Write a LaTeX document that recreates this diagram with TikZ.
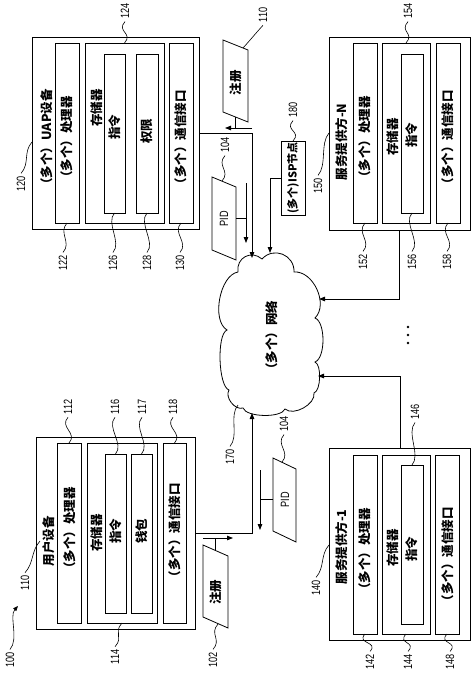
\documentclass[tikz,border=0pt]{standalone}
\usepackage{fontspec}
\setmainfont{Liberation Sans}
\newfontfamily\cjkf{Noto Sans CJK SC}
\newfontfamily\numf[FakeStretch=0.76]{Liberation Sans}
\usetikzlibrary{arrows.meta}
\newcommand\mybox[5]{\node[bx, minimum width={(#4-#2)*1pt}, minimum height={(#5-#3)*1pt}] (#1) at ({(#2+#4)/2},{(#3+#5)/2}) {};}
\begin{document}
\begin{tikzpicture}[x=1pt,y=-1pt,
  bx/.style={draw, line width=0.8pt, rectangle, inner sep=0pt, outer sep=0pt},
  ct/.style={rotate=90, inner sep=0pt, font=\cjkf\bfseries\fontsize{12.5}{13}\selectfont},
  cts/.style={rotate=90, inner sep=0pt, font=\cjkf\bfseries\fontsize{11}{13}\selectfont},
  num/.style={rotate=90, inner sep=0pt, outer sep=3pt, font=\numf\fontsize{12}{13}\selectfont},
  ln/.style={line width=0.8pt},
  arr/.style={ln, -{Triangle[length=6pt,width=4.5pt]}},
  sqd/.style={line width=0.6pt, to path={.. controls +(-9,10) and +(9,-10) .. (\tikztotarget)}},
  squ/.style={line width=0.6pt, to path={.. controls +(9,-10) and +(-9,10) .. (\tikztotarget)}},
]
\useasboundingbox (0,0) rectangle (474,677);

% ---------- UAP device 120 ----------
\mybox{uap}{32}{37}{199}{229}
\mybox{uapproc}{55}{43}{79}{223}
\mybox{uapmem}{85}{43}{164}{223}
\mybox{uapins}{104}{54}{125}{213}
\mybox{uapperm}{136}{54}{158}{213}
\mybox{uapcom}{169}{43}{193}{223}
\node[ct] (t120) at (47,140) {（多个）UAP设备};
\node[ct] (t122) at (67,140) {（多个）处理器};
\node[ct] (t124) at (97,108) {存储器};
\node[ct] (t126) at (115,127) {指令};
\node[ct] (t128) at (147,131) {权限};
\node[ct] (t130) at (181,140) {（多个）通信接口};

% ---------- Service provider N 150 ----------
\mybox{spn}{329}{37}{470}{230}
\mybox{spnproc}{353}{43}{377}{223}
\mybox{spnmem}{382}{43}{430}{223}
\mybox{spnins}{401}{54}{423}{213}
\mybox{spncom}{436}{43}{460}{223}
\node[ct] (t150) at (342,142) {服务提供方-N};
\node[ct] (t152) at (365,140) {（多个）处理器};
\node[ct] (t154) at (393,137) {存储器};
\node[ct] (t156) at (412,135) {指令};
\node[ct] (t158) at (448,140) {（多个）通信接口};

% ---------- User device 110 ----------
\mybox{ud}{36}{437}{195}{629}
\mybox{udproc}{57}{443}{81}{623}
\mybox{udmem}{87}{443}{157}{623}
\mybox{udins}{105}{454}{126}{613}
\mybox{udwal}{131}{454}{152}{613}
\mybox{udcom}{163}{443}{186}{623}
\node[ct] (t110) at (49,541) {用户设备};
\node[ct] (t112) at (70,531) {（多个）处理器};
\node[ct] (t114) at (97,533) {存储器};
\node[ct] (t116) at (116,531) {指令};
\node[ct] (t117) at (142,531) {钱包};
\node[ct] (t118) at (175,533) {（多个）通信接口};

% ---------- Service provider 1 140 ----------
\mybox{spa}{329}{448}{470}{640}
\mybox{spaproc}{353}{455}{377}{634}
\mybox{spamem}{382}{455}{430}{634}
\mybox{spains}{401}{465}{423}{624}
\mybox{spacom}{435}{455}{459}{634}
\node[ct] (t140) at (342,547) {服务提供方-1};
\node[ct] (t142) at (365,552) {（多个）处理器};
\node[ct] (t144) at (393,548) {存储器};
\node[ct] (t146) at (412,549) {指令};
\node[ct] (t148) at (448,557) {（多个）通信接口};

% ---------- ISP node 180 ----------
\mybox{isp}{281}{141}{305}{215}
\node[cts] (t180) at (293,178) {(多个)ISP节点};

% ---------- Network cloud ----------
\draw[ln] (238,272) to[bend left=70, looseness=1.34] (262,259)
  to[bend left=70, looseness=1.28] (294,272)
  to[bend left=70, looseness=0.98] (315,318)
  to[bend left=70, looseness=0.66] (315,362)
  to[bend left=70, looseness=0.6] (314,393)
  to[bend left=70, looseness=0.88] (285,409)
  to[bend left=70, looseness=0.6] (243,408)
  to[bend left=70, looseness=0.95] (229,390)
  to[bend left=70, looseness=0.48] (227,330)
  to[bend left=70, looseness=0.8] (238,272);
\node[ct] (net) at (272,338) {（多个）网络};

% ---------- connectors to network ----------
\coordinate (uapo) at (199,133);
\coordinate (nt1) at (252,258);
\draw[arr] (uapo) -| (nt1);
\coordinate (nt2) at (270,253);
\draw[arr] (isp.west) -| (nt2);
\coordinate (spno) at (399,230);
\coordinate (nr1) at (319,299);
\draw[arr] (spno) |- (nr1);
\coordinate (spao) at (400,448);
\coordinate (nr2) at (318,376);
\draw[arr] (spao) |- (nr2);
\coordinate (udo) at (195,533);
\coordinate (nb) at (252,413);
\draw[arr] (udo) -| (nb);

% ---------- top registration 110 ----------
\draw[ln] (223,40) -- (248,50) -- (248,122) -- (223,112) -- cycle;
\node[ct] (reg1) at (236,83) {注册};
\coordinate (r1a) at (252,128);
\coordinate (r1b) at (225,128);
\draw[arr] (r1a) -- (r1b);
\coordinate (r1s) at (235,117);
\draw[ln] (r1s) -- (r1s |- r1a);

% ---------- top PID 104 ----------
\draw[ln] (212,177) -- (236,187) -- (236,260) -- (212,250) -- cycle;
\node[num, font=\numf\fontsize{12}{13}\selectfont] (pid1) at (224,219) {PID};
\coordinate (p1a) at (246,183);
\coordinate (p1b) at (246,243);
\draw[arr] (p1a) -- (p1b);
\coordinate (p1s) at (236,218);
\draw[ln] (p1s) -- (p1s -| p1a);

% ---------- bottom registration 102 ----------
\draw[ln] (203,545) -- (228,556) -- (228,628) -- (203,617) -- cycle;
\node[ct] (reg2) at (216,592) {注册};
\coordinate (r2a) at (203,538);
\coordinate (r2b) at (233,538);
\draw[arr] (r2a) -- (r2b);
\coordinate (r2s) at (215,550);
\draw[ln] (r2s) -- (r2s |- r2a);

% ---------- bottom PID 104 ----------
\draw[ln] (273,458) -- (296,469) -- (296,542) -- (273,531) -- cycle;
\node[num, font=\numf\fontsize{12}{13}\selectfont] (pid2) at (285,500) {PID};
\coordinate (p2a) at (260,470);
\coordinate (p2b) at (260,530);
\draw[arr] (p2a) -- (p2b);
\coordinate (p2s) at (273,499);
\draw[ln] (p2s) -- (p2s -| p2a);

% ---------- dots ----------
\foreach \yy in {327,335,343} \fill (408,\yy) circle[radius=1.3];

% ---------- reference numerals ----------
\node[num] (l124) at (125,11) {124};
\draw[squ] (uapmem.north) to (l124.west);
\node[num] (l154) at (408,11) {154};
\draw[squ] (spnmem.north) to (l154.west);
\node[num] (l110t) at (263,15) {110};
\coordinate (r1t) at (243,48);
\draw[squ] (r1t) to (l110t.west);
\node[num] (l180) at (293,110) {180};
\draw[squ] (isp.north) to (l180.west);
\node[num] (l104t) at (225,145) {104};
\coordinate (p1t) at (222,181);
\draw[squ] (p1t) to (l104t.west);

\node[num] (l122) at (63,263) {122};
\draw[sqd] (uapproc.south) to (l122.east);
\node[num] (l126) at (113,263) {126};
\draw[sqd] (uapins.south) to (l126.east);
\node[num] (l128) at (147,263) {128};
\draw[sqd] (uapperm.south) to (l128.east);
\node[num] (l130) at (180,263) {130};
\draw[sqd] (uapcom.south) to (l130.east);
\node[num] (l152) at (363,262) {152};
\draw[sqd] (spnproc.south) to (l152.east);
\node[num] (l156) at (412,262) {156};
\draw[sqd] (spnins.south) to (l156.east);
\node[num] (l158) at (447,262) {158};
\draw[sqd] (spncom.south) to (l158.east);

\node[num] (l120) at (21,184) {120};
\coordinate (uapw) at (32,142);
\draw[squ] (l120.east) to (uapw);
\node[num] (l150) at (318,186) {150};
\coordinate (spnw) at (329,133);
\draw[sqd] (spnw) to (l150.east);

\node[num] (l104b) at (284,424) {104};
\coordinate (p2t) at (282,462);
\draw[squ] (p2t) to (l104b.west);
\node[num] (l170) at (230,457) {170};
\coordinate (netbl) at (238,405);
\draw[squ] (l170.east) to (netbl);

\node[num] (l112) at (68,407) {112};
\draw[squ] (udproc.north) to (l112.west);
\node[num] (l116) at (115,407) {116};
\draw[squ] (udins.north) to (l116.west);
\node[num] (l117) at (142,407) {117};
\draw[squ] (udwal.north) to (l117.west);
\node[num] (l118) at (173,407) {118};
\draw[squ] (udcom.north) to (l118.west);
\node[num] (l146) at (415,412) {146};
\draw[squ] (spains.north) to (l146.west);

\node[num] (l110u) at (25,583) {110};
\coordinate (udin) at (40,541);
\draw[squ] (l110u.east) to (udin);
\node[num] (l140) at (316,588) {140};
\coordinate (spaw) at (329,545);
\draw[sqd] (spaw) to (l140.east);

\node[num] (l100) at (10,660) {100};
\coordinate (a100) at (18,606);
\draw[squ, -{Triangle[length=5pt,width=4pt]}] (l100.east) to (a100);
\node[num] (l114) at (115,657) {114};
\draw[sqd] (udmem.south) to (l114.east);
\node[num] (l102) at (213,660) {102};
\coordinate (r2t) at (218,624);
\draw[sqd] (r2t) to (l102.east);
\node[num] (l142) at (370,662) {142};
\draw[sqd] (spaproc.south) to (l142.east);
\node[num] (l144) at (408,662) {144};
\draw[sqd] (spamem.south) to (l144.east);
\node[num] (l148) at (450,662) {148};
\draw[sqd] (spacom.south) to (l148.east);
\end{tikzpicture}
\end{document}
